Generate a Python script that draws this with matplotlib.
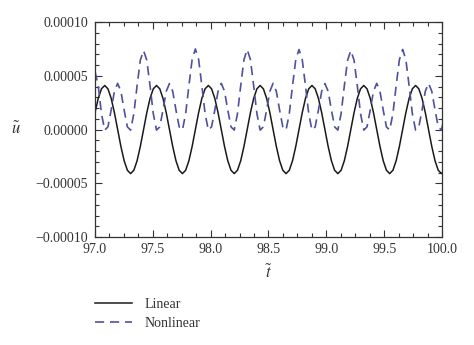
import numpy as np
import matplotlib
matplotlib.use('Agg')
import matplotlib.pyplot as plt
from matplotlib.ticker import MultipleLocator

plt.rcParams['font.family'] = ['Liberation Serif', 'DejaVu Serif']
plt.rcParams['mathtext.fontset'] = 'stix'

# 采样时间点
t = [97.000, 97.028, 97.056, 97.084, 97.112, 97.140, 97.168, 97.196, 97.224, 97.252,
     97.280, 97.308, 97.336, 97.364, 97.392, 97.420, 97.448, 97.476, 97.504, 97.532,
     97.560, 97.588, 97.616, 97.644, 97.672, 97.700, 97.728, 97.756, 97.784, 97.812,
     97.840, 97.868, 97.896, 97.924, 97.952, 97.980, 98.008, 98.036, 98.064, 98.092,
     98.120, 98.148, 98.176, 98.204, 98.232, 98.260, 98.288, 98.316, 98.344, 98.372,
     98.400, 98.428, 98.456, 98.484, 98.512, 98.540, 98.568, 98.596, 98.624, 98.652,
     98.680, 98.708, 98.736, 98.764, 98.792, 98.820, 98.848, 98.876, 98.904, 98.932,
     98.960, 98.988, 99.016, 99.044, 99.072, 99.100, 99.128, 99.156, 99.184, 99.212,
     99.240, 99.268, 99.296, 99.324, 99.352, 99.380, 99.408, 99.436, 99.464, 99.492,
     99.520, 99.548, 99.576, 99.604, 99.632, 99.660, 99.688, 99.716, 99.744, 99.772,
     99.800, 99.828, 99.856, 99.884, 99.912, 99.940, 99.968, 99.996, 100.024]

# Linear, 单位 1e-5
u_linear = [1.57, 2.90, 3.79,
            4.10, 3.79, 2.90, 1.57, 0.00, -1.57, -2.90, -3.79, -4.10, -3.79, -2.90, -1.57, 0.00, 1.57, 2.90, 3.79,
            4.10, 3.79, 2.90, 1.57, 0.00, -1.57, -2.90, -3.79, -4.10, -3.79, -2.90, -1.57, 0.00, 1.57, 2.90, 3.79,
            4.10, 3.79, 2.90, 1.57, 0.00, -1.57, -2.90, -3.79, -4.10, -3.79, -2.90, -1.57, 0.00, 1.57, 2.90, 3.79,
            4.10, 3.79, 2.90, 1.57, 0.00, -1.57, -2.90, -3.79, -4.10, -3.79, -2.90, -1.57, 0.00, 1.57, 2.90, 3.79,
            4.10, 3.79, 2.90, 1.57, 0.00, -1.57, -2.90, -3.79, -4.10, -3.79, -2.90, -1.57, 0.00, 1.57, 2.90, 3.79,
            4.10, 3.79, 2.90, 1.57, 0.00, -1.57, -2.90, -3.79, -4.10, -3.79, -2.90, -1.57, 0.00, 1.57, 2.90, 3.79,
            4.10, 3.79, 2.90, 1.57, 0.00, -1.57, -2.90, -3.79, -4.10, -3.79]

# Nonlinear, 单位 1e-5
u_nonlinear = [5.40, 4.08, 1.48,
               -0.05, 0.25, 1.82, 3.56, 4.30, 3.56, 1.82, 0.25, -0.05, 1.48, 4.08, 6.45, 7.35, 6.45, 4.08, 1.48,
               -0.05, 0.25, 1.82, 3.56, 4.28, 3.56, 1.82, 0.25, -0.05, 1.48, 4.08, 6.52, 7.50, 6.52, 4.08, 1.48,
               -0.05, 0.25, 1.82, 3.56, 4.30, 3.56, 1.82, 0.25, -0.05, 1.48, 4.08, 6.50, 7.45, 6.50, 4.08, 1.48,
               -0.05, 0.25, 1.82, 3.56, 4.30, 3.56, 1.82, 0.25, -0.05, 1.48, 4.08, 6.50, 7.45, 6.50, 4.08, 1.48,
               -0.05, 0.25, 1.82, 3.56, 4.28, 3.56, 1.82, 0.25, -0.05, 1.48, 4.08, 6.45, 7.35, 6.45, 4.08, 1.48,
               -0.05, 0.25, 1.82, 3.56, 4.30, 3.56, 1.82, 0.25, -0.05, 1.48, 4.08, 6.50, 7.45, 6.50, 4.08, 1.48,
               -0.05, 0.25, 1.82, 3.56, 4.30, 3.56, 1.82, 0.25, -0.05, 1.48]

xticks = [97.0, 97.5, 98.0, 98.5, 99.0, 99.5, 100.0]
xtick_labels = ['97.0', '97.5', '98.0', '98.5', '99.0', '99.5', '100.0']
yticks = [-0.0001, -0.00005, 0.0, 0.00005, 0.0001]
ytick_labels = ['\u22120.00010', '\u22120.00005', '0.00000', '0.00005', '0.00010']

t = np.array(t)
u_linear = np.array(u_linear) * 1e-5
u_nonlinear = np.array(u_nonlinear) * 1e-5

fig = plt.figure(figsize=(4.74, 3.45), dpi=100)
ax = fig.add_axes([0.2004, 0.313, 0.732, 0.623])

ax.plot(t, u_linear, color='#1a1a1a', lw=1.1, label='Linear')
ax.plot(t, u_nonlinear, color='#5050a0', lw=1.2, dashes=(5.5, 3.5), label='Nonlinear')

ax.set_xlim(97.0, 100.0)
ax.set_ylim(-0.0001, 0.0001)
ax.set_xticks(xticks)
ax.set_xticklabels(xtick_labels)
ax.set_yticks(yticks)
ax.set_yticklabels(ytick_labels)
ax.xaxis.set_minor_locator(MultipleLocator(0.125))
ax.yaxis.set_minor_locator(MultipleLocator(0.00001))

ax.tick_params(which='both', direction='in', top=True, right=True, colors='#333333',
               labelsize=10, width=0.8)
ax.tick_params(which='major', length=5, pad=4)
ax.tick_params(axis='y', which='major', pad=5)
ax.tick_params(which='minor', length=3)
for s in ax.spines.values():
    s.set_color('#333333')
    s.set_linewidth(0.9)

ax.set_xlabel(r'$\tilde{t}$', fontsize=12, color='#333333', labelpad=6)
ax.set_ylabel(r'$\tilde{u}$', fontsize=12, color='#333333', rotation=0, labelpad=14, va='center')

fig.legend(loc='upper left', bbox_to_anchor=(0.2004, 0.136), frameon=False, fontsize=10,
           handlelength=2.7, handletextpad=0.85, labelspacing=0.45, borderpad=0, borderaxespad=0,
           labelcolor='#333333')

fig.savefig('out.png', dpi=100)
